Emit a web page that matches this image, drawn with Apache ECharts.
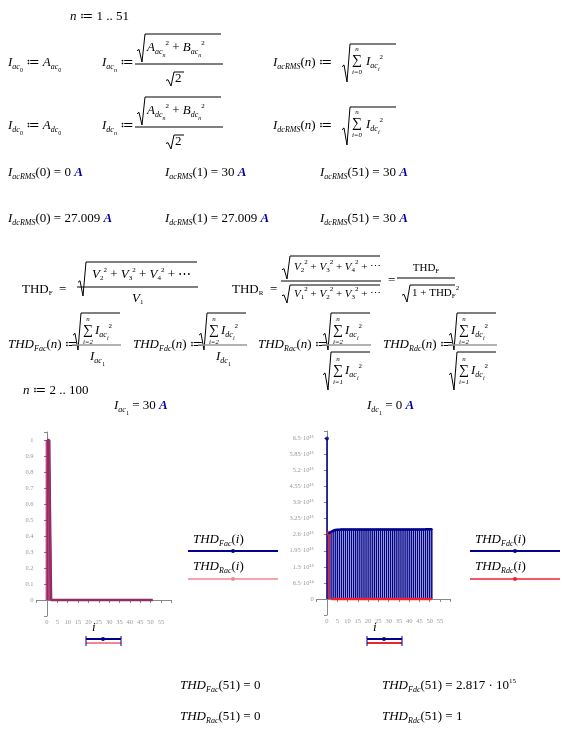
<!DOCTYPE html>
<html><head><meta charset="utf-8">
<script src="https://cdn.jsdelivr.net/npm/echarts@6/dist/echarts.min.js"></script>
<style>html,body{margin:0;padding:0;background:#fff}#c{width:563px;height:750px}</style>
</head><body><div id="c"></div>
<script>
const idx = [0,1,2,3,4,5,6,7,8,9,10,11,12,13,14,15,16,17,18,19,20,21,22,23,24,25,26,27,28,29,30,31,32,33,34,35,36,37,38,39,40,41,42,43,44,45,46,47,48,49,50,51];
const thdFac = [1,1,0,0,0,0,0,0,0,0,0,0,0,0,0,0,0,0,0,0,0,0,0,0,0,0,0,0,0,0,0,0,0,0,0,0,0,0,0,0,0,0,0,0,0,0,0,0,0,0,0,0];
const thdRac = [1,1,0,0,0,0,0,0,0,0,0,0,0,0,0,0,0,0,0,0,0,0,0,0,0,0,0,0,0,0,0,0,0,0,0,0,0,0,0,0,0,0,0,0,0,0,0,0,0,0,0,0];
const thdFdc = [6.5e15,2.66e15,2.72e15,2.76e15,2.79e15,2.8e15,2.8e15,2.81e15,2.81e15,2.81e15,2.81e15,2.81e15,2.81e15,2.81e15,2.81e15,2.81e15,2.81e15,2.81e15,2.81e15,2.81e15,2.81e15,2.81e15,2.81e15,2.81e15,2.81e15,2.81e15,2.81e15,2.81e15,2.81e15,2.81e15,2.81e15,2.81e15,2.81e15,2.81e15,2.81e15,2.81e15,2.81e15,2.81e15,2.81e15,2.81e15,2.81e15,2.81e15,2.81e15,2.81e15,2.81e15,2.81e15,2.81e15,2.81e15,2.817e15,2.817e15,2.817e15,2.817e15];
const thdRdc = [0,2.66e15,1,1,1,1,1,1,1,1,1,1,1,1,1,1,1,1,1,1,1,1,1,1,1,1,1,1,1,1,1,1,1,1,1,1,1,1,1,1,1,1,1,1,1,1,1,1,1,1,1,1];

const SERIF = '"Liberation Serif","DejaVu Serif",serif';
const BLUE = '#00008b', RED = '#ee2233';
const R = {
  i:{fontFamily:SERIF,fontStyle:'italic',fontSize:13,fill:'#000'},
  r:{fontFamily:SERIF,fontSize:13,fill:'#000'},
  s:{fontFamily:SERIF,fontStyle:'italic',fontSize:8,fill:'#000',padding:[8,0,0,0]},
  s2:{fontFamily:SERIF,fontSize:6,fill:'#000',padding:[14,0,0,0]},
  ss:{fontFamily:SERIF,fontStyle:'italic',fontSize:6,fill:'#000',padding:[14,0,0,0]},
  sp:{fontFamily:SERIF,fontSize:7,fill:'#000',padding:[0,0,10,0]},
  rs:{fontFamily:SERIF,fontSize:7,fill:'#000',padding:[6,0,0,0]},
  b:{fontFamily:SERIF,fontStyle:'italic',fontWeight:'bold',fontSize:13,fill:'#0000a0'},
  sm:{fontFamily:SERIF,fontStyle:'italic',fontSize:7,fill:'#000'},
  sg:{fontFamily:SERIF,fontSize:14,fill:'#000'},
  v:{fontFamily:SERIF,fontStyle:'italic',fontSize:11,fill:'#000'},
  rv:{fontFamily:SERIF,fontSize:11,fill:'#000'}
};
const G = [];
function tx(x,y,s,align){G.push({type:'text',x:x,y:y,style:{text:s,rich:R,align:align||'left',verticalAlign:'middle',font:'13px '+SERIF}});}
function ln(x1,y1,x2,y2,c,w){G.push({type:'line',shape:{x1,y1,x2,y2},style:{stroke:c||'#000',lineWidth:w||1}});}
function rad(x,top,bot,x2){G.push({type:'polyline',shape:{points:[[x,bot-(bot-top)*0.4],[x+2,bot-(bot-top)*0.45],[x+5,bot],[x+8,top],[x2,top]]},style:{stroke:'#000',lineWidth:1,fill:null}});}
function sum(x,y,top){tx(x,y-11,'{sm|n}','center');tx(x,y,'{sg|∑}','center');tx(x,y+12,'{sm|i=0}'.replace('0',top),'center');}

tx(70,17,'{i|n}{r| ≔ 1 .. 51}');
[['ac',0],['dc',63]].forEach(([k,d])=>{
  tx(8,63+d,`{i|I}{s|${k}}{s2|0}{r| ≔ }{i|A}{s|${k}}{s2|0}`);
  tx(102,63+d,`{i|I}{s|${k}}{ss|n}{r| ≔}`);
  rad(137,34+d,62+d,221);
  tx(147,48+d,`{i|A}{s|${k}}{ss|n}{sp|2}{r| + }{i|B}{s|${k}}{ss|n}{sp|2}`);
  ln(135,64+d,223,64+d);
  rad(166,72+d,86+d,184);
  tx(175,79+d,'{r|2}');
  tx(273,63+d,`{i|I}{s|${k}RMS}{r|(}{i|n}{r|) ≔}`);
  rad(342,44+d,82+d,396);
  sum(357,60+d,'0');
  tx(366,62+d,`{i|I}{s|${k}}{ss|i}{sp|2}`);
});
[[8,'0','0 '],[165,'1','30 '],[320,'51','30 ']].forEach(([x,a,v])=>tx(x,173,`{i|I}{s|acRMS}{r|(${a}) = ${v}}{b|A}`));
[[8,'0','27.009 '],[165,'1','27.009 '],[320,'51','30 ']].forEach(([x,a,v])=>tx(x,219,`{i|I}{s|dcRMS}{r|(${a}) = ${v}}{b|A}`));

tx(22,290,'{r|THD}{rs|F}{r|  =}');
rad(78,262,296,197);
tx(92,275,'{i|V}{rs|2}{sp|2}{r| + }{i|V}{rs|3}{sp|2}{r| + }{i|V}{rs|4}{sp|2}{r| + ⋯}');
ln(77,287,198,287);
tx(132,299,'{i|V}{rs|1}');
tx(232,290,'{r|THD}{rs|R}{r|  =}');
rad(282,256,279,380);
tx(294,267,'{v|V}{rs|2}{sp|2}{rv| + }{v|V}{rs|3}{sp|2}{rv| + }{v|V}{rs|4}{sp|2}{rv| + ⋯}');
ln(281,281,381,281);
rad(282,285,303,380);
tx(294,294,'{v|V}{rs|1}{sp|2}{rv| + }{v|V}{rs|2}{sp|2}{rv| + }{v|V}{rs|3}{sp|2}{rv| + ⋯}');
tx(388,281,'{r|=}');
tx(426,268,'{rv|THD}{rs|F}','center');
ln(397,278,455,278);
rad(402,285,302,455);
tx(412,293,'{rv|1 + THD}{rs|F}{sp|2}');

[[8,'Fac','ac',false],[133,'Fdc','dc',false],[258,'Rac','ac',true],[383,'Rdc','dc',true]].forEach(([x,n,k,r],j)=>{
  const fx=[72,198,322,448][j];
  tx(x,345,`{i|THD}{s|${n}}{r|(}{i|n}{r|) ≔}`);
  rad(fx+1,313,350,fx+48);
  sum(fx+16,330,'2');
  tx(fx+23,331,`{i|I}{s|${k}}{ss|i}{sp|2}`);
  ln(fx,345,fx+49,345,'#999',1.5);
  if(!r){tx(fx+18,357,`{i|I}{s|${k}}{s2|1}`);}
  else{rad(fx+1,352,390,fx+48);sum(fx+16,370,'1');tx(fx+23,371,`{i|I}{s|${k}}{ss|i}{sp|2}`);}
});
tx(23,391,'{i|n}{r| ≔ 2 .. 100}');
tx(114,406,'{i|I}{s|ac}{s2|1}{r| = 30 }{b|A}');
tx(367,406,'{i|I}{s|dc}{s2|1}{r| = 0 }{b|A}');

[[188,'Fac','Rac','#f08890'],[470,'Fdc','Rdc',RED]].forEach(([x,a,b,rc])=>{
  tx(x+5,540,`{i|THD}{s|${a}}{r|(}{i|i}{r|)}`);
  ln(x,551,x+90,551,BLUE,2); G.push({type:'circle',shape:{cx:x+45,cy:551,r:2},style:{fill:BLUE}});
  tx(x+5,567,`{i|THD}{s|${b}}{r|(}{i|i}{r|)}`);
  ln(x,579,x+90,579,rc,1.5); G.push({type:'circle',shape:{cx:x+45,cy:579,r:2},style:{fill:rc}});
});
[[86,'#f08890'],[367,RED]].forEach(([x,rc])=>{
  tx(x+6,628,'{i|i}');
  ln(x,639,x+35,639,BLUE,2); ln(x,643,x+35,643,rc,2);
  G.push({type:'circle',shape:{cx:x+17,cy:639,r:2},style:{fill:BLUE}});
  [x,x+35].forEach(xx=>{ln(xx,636,xx,646,BLUE,1);});
});
tx(180,686,'{i|THD}{s|Fac}{r|(51) = 0}');
tx(180,717,'{i|THD}{s|Rac}{r|(51) = 0}');
tx(382,686,'{i|THD}{s|Fdc}{r|(51) = 2.817 · 10}{sp|15}');
tx(382,717,'{i|THD}{s|Rdc}{r|(51) = 1}');

const pairs = a => idx.map((i,j)=>[i,a[j]]);
const sup = {'0':'⁰','1':'¹','2':'²','3':'³','4':'⁴','5':'⁵','6':'⁶','7':'⁷','8':'⁸','9':'⁹'};
function sci(v){ if(v<=0) return v===0?'0':''; if(v>6.6e15) return ''; const e=Math.floor(Math.log10(v)+1e-9); const m=+(v/Math.pow(10,e)).toFixed(2); return m+'·10'+String(e).split('').map(c=>sup[c]).join(''); }
const axBase = {axisLine:{lineStyle:{color:'#888'}},axisTick:{length:3,lineStyle:{color:'#888'}},splitLine:{show:false},axisLabel:{color:'#999',fontSize:6.5,fontFamily:SERIF,margin:3}};
const xFmt = v => (v>=0 && v<=55) ? String(v) : '';
const option = {
  animation:false,
  grid:[{left:36.6,top:432,width:134.7,height:184},{left:316.7,top:431,width:133.6,height:184}],
  xAxis:[
    Object.assign({},axBase,{gridIndex:0,type:'value',min:-5,max:60,interval:5,axisLabel:Object.assign({},axBase.axisLabel,{formatter:xFmt})}),
    Object.assign({},axBase,{gridIndex:1,type:'value',min:-5,max:60,interval:5,axisLabel:Object.assign({},axBase.axisLabel,{formatter:xFmt})})
  ],
  yAxis:[
    Object.assign({},axBase,{gridIndex:0,type:'value',min:-0.1,max:1.05,interval:0.1,axisLabel:Object.assign({},axBase.axisLabel,{formatter:v=>(v<0||v>1.01)?'':(v===0?'0':String(+v.toFixed(1)))})}),
    Object.assign({},axBase,{gridIndex:1,type:'value',min:-6.5e14,max:6.8e15,interval:6.5e14,axisLabel:Object.assign({},axBase.axisLabel,{formatter:v=>sci(Math.round(v/1e13)*1e13)})})
  ],
  series:[
    {type:'bar',xAxisIndex:0,yAxisIndex:0,data:pairs(thdFac),barWidth:2.5,itemStyle:{color:'rgba(0,0,170,0.55)'}},
    {type:'bar',xAxisIndex:0,yAxisIndex:0,data:pairs(thdRac),barWidth:2.5,barGap:'-100%',itemStyle:{color:'rgba(238,34,51,0.5)'}},
    {type:'line',xAxisIndex:0,yAxisIndex:0,data:pairs(thdFac),symbol:'none',lineStyle:{color:'#7a2a70',width:2.5}},
    {type:'line',xAxisIndex:0,yAxisIndex:0,data:pairs(thdRac),symbol:'none',lineStyle:{color:'#a0305a',width:1.5}},
    {type:'bar',xAxisIndex:1,yAxisIndex:1,data:pairs(thdFdc),barWidth:1.5,itemStyle:{color:BLUE}},
    {type:'bar',xAxisIndex:1,yAxisIndex:1,data:pairs(thdRdc),barWidth:1.5,barGap:'-100%',itemStyle:{color:RED}},
    {type:'line',xAxisIndex:1,yAxisIndex:1,data:pairs(thdFdc).slice(1),symbol:'circle',symbolSize:2,itemStyle:{color:BLUE},lineStyle:{color:BLUE,width:2.5}},
    {type:'line',xAxisIndex:1,yAxisIndex:1,data:pairs(thdRdc).slice(2),symbol:'none',lineStyle:{color:RED,width:2.5}},
    {type:'scatter',xAxisIndex:1,yAxisIndex:1,data:[[idx[1],thdRdc[1]]],symbolSize:5,itemStyle:{color:RED}},
    {type:'scatter',xAxisIndex:1,yAxisIndex:1,data:[[idx[0],thdFdc[0]]],symbolSize:4,itemStyle:{color:BLUE}}
  ],
  graphic:G
};
const ch = echarts.init(document.getElementById('c'));
ch.setOption(option);
</script></body></html>
